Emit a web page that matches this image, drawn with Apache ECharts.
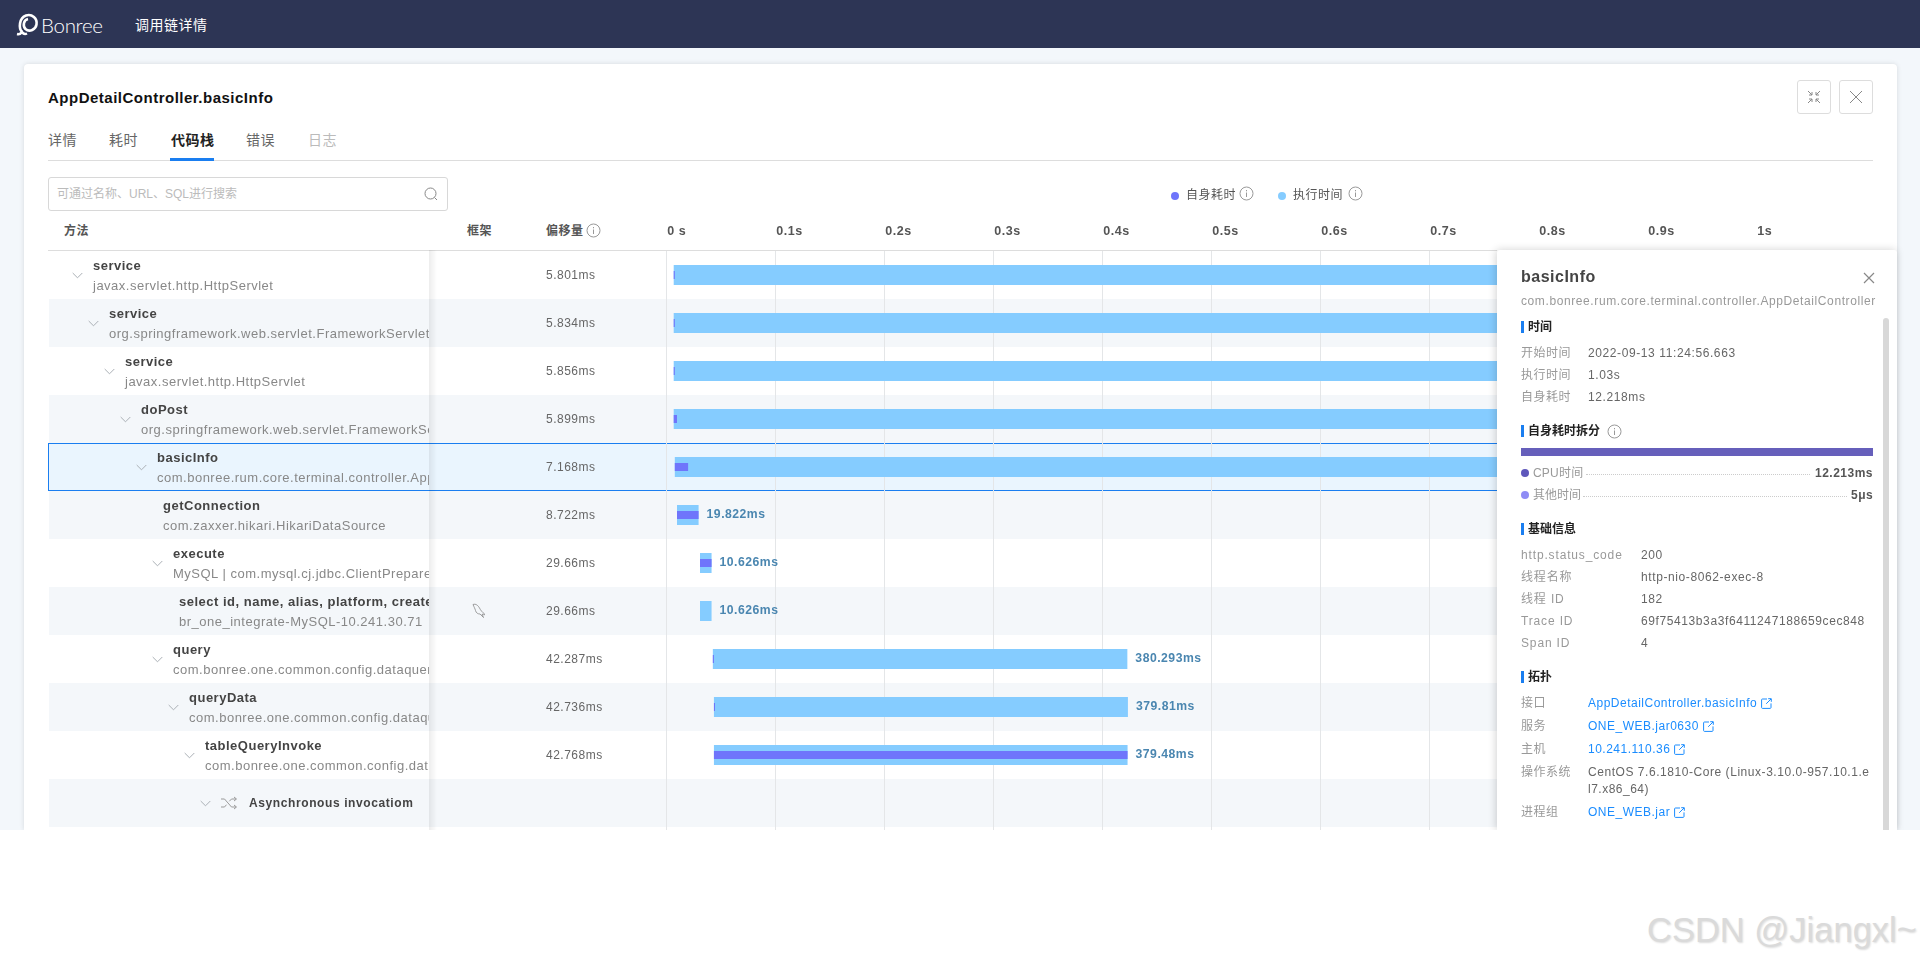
<!DOCTYPE html>
<html>
<head>
<meta charset="utf-8">
<title>调用链详情</title>
<script src="https://cdn.jsdelivr.net/npm/echarts@6/dist/echarts.min.js"></script>
<style>
html, body { margin: 0; padding: 0; width: 1920px; height: 961px; overflow: hidden; background: #fff; }
body { font-family: "Liberation Sans", "Noto Sans CJK SC", sans-serif; font-size: 12px; letter-spacing: .5px; color: #666; }
.box { position: absolute; box-sizing: border-box; }
.t { position: absolute; white-space: nowrap; transform: translateY(-50%); line-height: 16px; }
svg { display: block; }
.t svg { display: inline-block; vertical-align: -2px; margin-left: 4px; }
#chart { position: absolute; left: 0; top: 0; width: 1920px; height: 830px; z-index: 2; }
</style>
</head>
<body>
<div id="root"></div>
<div id="chart"></div>
<script>
// trace rows
var methodNames = ['service', 'service', 'service', 'doPost', 'basicInfo', 'getConnection', 'execute',
    'select id, name, alias, platform, create_time', 'query', 'queryData', 'tableQueryInvoke', 'Asynchronous invocatiom', ''];
var methodClasses = ['javax.servlet.http.HttpServlet', 'org.springframework.web.servlet.FrameworkServlet',
    'javax.servlet.http.HttpServlet', 'org.springframework.web.servlet.FrameworkServlet',
    'com.bonree.rum.core.terminal.controller.AppDetailController', 'com.zaxxer.hikari.HikariDataSource',
    'MySQL | com.mysql.cj.jdbc.ClientPreparedStatement', 'br_one_integrate-MySQL-10.241.30.71',
    'com.bonree.one.common.config.dataquery.QueryService', 'com.bonree.one.common.config.dataquery.QueryService',
    'com.bonree.one.common.config.dataquery.QueryService', '', ''];
var offsetLabels = ['5.801ms', '5.834ms', '5.856ms', '5.899ms', '7.168ms', '8.722ms', '29.66ms', '29.66ms',
    '42.287ms', '42.736ms', '42.768ms', '', ''];
var startMs = [6.8, 6.8, 6.8, 6.8, 7.8, 9.8, 30.9, 30.9, 42.7, 43.7, 43.7, null, null];
var execMs = [1030, 1030, 1030, 1030, 1030, 19.822, 10.626, 10.626, 380.293, 379.81, 379.48, null, null];
var selfMs = [1, 1, 1, 3, 12.218, 19.822, 10.626, 0, 1, 1, 379.48, null, null];
var execLabels = ['1.03s', '1.03s', '1.03s', '1.03s', '1.03s', '19.822ms', '10.626ms', '10.626ms',
    '380.293ms', '379.81ms', '379.48ms', '', ''];
var tickLabels = ['0 s', '0.1s', '0.2s', '0.3s', '0.4s', '0.5s', '0.6s', '0.7s', '0.8s', '0.9s', '1s'];
var legendNames = ['自身耗时', '执行时间'];

// page text
var tabNames = ['详情', '耗时', '代码栈', '错误', '日志'];
var timeLabels = ['开始时间', '执行时间', '自身耗时'];
var timeValues = ['2022-09-13 11:24:56.663', '1.03s', '12.218ms'];
var baseLabels = ['http.status_code', '线程名称', '线程 ID', 'Trace ID', 'Span ID'];
var baseValues = ['200', 'http-nio-8062-exec-8', '182', '69f75413b3a3f6411247188659cec848', '4'];
var topoLabels = ['接口', '服务', '主机', '操作系统', '进程组'];
var topoValues = ['AppDetailController.basicInfo', 'ONE_WEB.jar0630', '10.241.110.36', 'CentOS 7.6.1810-Core (Linux-3.10.0-957.10.1.e', 'ONE_WEB.jar'];

// layout of the page around the chart
var ROW_H = 48, ROW_TOP = 251;
var nameX = [93, 109, 125, 141, 157, 163, 173, 179, 173, 189, 205, 249];
var arrowX = [77, 93, 109, 125, 141, null, 157, null, 157, 173, 189, 205];
var tabX = [48, 109, 171, 246, 308];
var AXIS_LEFT = 666.3, PX_PER_MS = 1.09;

var root = document.getElementById('root');

function box(x, y, w, h, css, z) {
    var d = document.createElement('div');
    d.className = 'box';
    d.style.cssText = 'left:' + x + 'px;top:' + y + 'px;width:' + w + 'px;height:' + h + 'px;' + (z ? 'z-index:' + z + ';' : '') + (css || '');
    root.appendChild(d);
    return d;
}
function txt(x, y, s, css, z, parent) {
    var d = document.createElement('div');
    d.className = 't';
    d.style.cssText = 'left:' + x + 'px;top:' + y + 'px;' + (z ? 'z-index:' + z + ';' : '') + (css || '');
    d.textContent = s;
    (parent || root).appendChild(d);
    return d;
}
function icon(x, y, w, h, inner, z, parent) {
    var d = document.createElement('div');
    d.className = 'box';
    d.style.cssText = 'left:' + (x - w / 2) + 'px;top:' + (y - h / 2) + 'px;width:' + w + 'px;height:' + h + 'px;' + (z ? 'z-index:' + z + ';' : '');
    d.innerHTML = '<svg width="' + w + '" height="' + h + '" viewBox="0 0 ' + w + ' ' + h + '" fill="none">' + inner + '</svg>';
    (parent || root).appendChild(d);
    return d;
}
function infoIcon(x, y, z) {
    icon(x, y, 15, 15, '<circle cx="7.5" cy="7.5" r="6.5" stroke="#999"/><path d="M7.5 6.5v4.5M7.5 4v1.3" stroke="#999"/>', z);
}
function chevron(x, y, parent) {
    icon(x, y, 11, 7, '<path d="M.7 1 5.5 5.8 10.3 1" stroke="#aab0b5"/>', 0, parent);
}
var linkSvg = '<svg width="11" height="11" viewBox="0 0 11 11" fill="none"><path d="M6 1H1.4a.8.8 0 0 0-.8.8v7.8c0 .4.4.8.8.8h7.8c.4 0 .8-.4.8-.8V5.4M5.2 5.8 10 1M7.2 .7h3.1v3.1" stroke="#1a8cff"/></svg>';

// header
box(0, 0, 1920, 48, 'background:#2d3555;');
box(0, 48, 1920, 782, 'background:#f3f7fb;');
icon(27.5, 24, 26, 24, '<path d="M7 20C3.5 16 4 6 11 3.5c6-2 11.5 3 10.5 9-.8 5-7 8-11 4.5C7.5 14 8.5 8 13 7" stroke="#fff" stroke-width="2.6"/><path d="M2 22c2 .5 4-.5 5-2 1 1.5 3 2.5 5 1.5" stroke="#fff" stroke-width="2.4"/>');
txt(41, 25, 'Bonree', 'font:300 20.5px Lato,"Liberation Sans";letter-spacing:-.3px;color:#fff;');
txt(135, 25, '调用链详情', 'font-size:14px;color:#fff;');

// card
box(24, 64, 1873, 766, 'background:#fff;border-radius:4px 4px 0 0;box-shadow:0 0 5px rgba(0,0,0,.12);');
txt(48, 97, 'AppDetailController.basicInfo', 'font:bold 15px "Liberation Sans";color:#111;');
tabNames.forEach(function (n, i) {
    var c = i === 2 ? 'color:#222;font-weight:bold;' : (i === 4 ? 'color:#bbb;' : 'color:#666;');
    txt(tabX[i], 140, n, 'font-size:14px;' + c);
});
box(48, 160, 1825, 1, 'background:#ddd;');
box(170, 158, 44, 3, 'background:#1a7ef0;');
box(1797, 80, 34, 34, 'border:1px solid #ddd;border-radius:3px;');
icon(1814, 97, 14, 14, '<path d="M1 1 5 5M5 2v3H2M13 1 9 5M9 2v3h3M1 13 5 9M2 9h3v3M13 13 9 9M12 9H9v3" stroke="#888"/>');
box(1839, 80, 34, 34, 'border:1px solid #ddd;border-radius:3px;');
icon(1856, 97, 14, 14, '<path d="M1 1 13 13M13 1 1 13" stroke="#888"/>');

// search box and table head
box(48, 177, 400, 34, 'border:1px solid #d8d8d8;border-radius:3px;');
txt(57, 194, '可通过名称、URL、SQL进行搜索', 'color:#bbb;letter-spacing:0;');
icon(431, 194, 14, 14, '<circle cx="6.5" cy="6.5" r="5.5" stroke="#888"/><path d="M10.5 10.5 13 13" stroke="#888"/>');
txt(64, 231, '方法', 'font-weight:bold;color:#555;');
txt(467, 231, '框架', 'font-weight:bold;color:#555;');
txt(546, 231, '偏移量', 'font-weight:bold;color:#555;');
infoIcon(593, 230);
infoIcon(1246, 193, 3);
infoIcon(1355.5, 193, 3);
box(48, 250, 1449, 1, 'background:#ddd;');

// table rows
var leftCol = box(49, 250, 380, 580, 'overflow:hidden;z-index:3;');
methodNames.slice(0, 12).forEach(function (name, i) {
    var top = ROW_TOP + i * ROW_H;
    if (i % 2 === 1) box(49, top, 1448, ROW_H, 'background:#f4f7fa;');
    if (i === 4) box(48, top, 1449, ROW_H, 'background:#eaf5fe;border:1.5px solid #1a7ef0;border-right:0;');
    var mid = top + 23.5 - 250;
    if (arrowX[i] !== null) chevron(arrowX[i] - 49, mid + 1, leftCol);
    if (i === 11) {
        icon(229 - 49, mid + 0.5, 18, 14, '<path d="M1 3h3.5l7 8H16M1 11h3.5l2-2.3M9.3 5.3 11.5 3H16M14 1l2.5 2L14 5M14 9l2.5 2L14 13" stroke="#999"/>', 0, leftCol);
        txt(nameX[i] - 49, mid, name, 'font-weight:bold;color:#444;letter-spacing:.6px;', 0, leftCol);
    } else {
        txt(nameX[i] - 49, mid - 8.5, name, 'font-weight:bold;font-size:13px;color:#444;', 0, leftCol);
        txt(nameX[i] - 49, mid + 11.5, methodClasses[i], 'font-size:13px;color:#888;', 0, leftCol);
    }
    if (offsetLabels[i]) txt(546, top + 23.5, offsetLabels[i], 'color:#666;', 3);
});
box(429, 250, 8, 580, 'z-index:3;background:linear-gradient(to right,rgba(0,0,0,.07),rgba(0,0,0,0));');
icon(480, 611, 16, 16, '<path d="M1 1.5c3-1 5 1 6.5 3.5 1 2 2.5 4 5.5 6.5-1 .5-2 0-3-.5l1.5 3.5-3.5-3.5c-2 0-4-1-4.5-3.5C3 5.5 2 4 1 1.5Z" stroke="#888" stroke-width=".8"/>', 3);

// detail panel on the right
var Z = 5;
box(1497, 250, 400, 580, 'background:#fff;border-radius:3px 3px 0 0;box-shadow:-1px 0 8px rgba(0,0,0,.18);', 4);
box(0, 830, 1920, 131, 'background:#fff;', 4);
txt(1521, 277, 'basicInfo', 'font:bold 16px "Liberation Sans";letter-spacing:.5px;color:#444;', Z);
icon(1869, 278, 12, 12, '<path d="M1 1 11 11M11 1 1 11" stroke="#888" stroke-width="1.2"/>', Z);
txt(1521, 301, 'com.bonree.rum.core.terminal.controller.AppDetailController', 'color:#999;letter-spacing:.6px;', Z);
box(1883, 318, 6, 512, 'background:#d8d8d8;border-radius:3px 3px 0 0;', Z);

function sectionHead(y, s) {
    box(1521, y - 6, 3, 12, 'background:#1a7ef0;', Z);
    txt(1528, y, s, 'font-weight:bold;color:#222;letter-spacing:0;', Z);
}
sectionHead(327, '时间');
timeLabels.forEach(function (s, i) {
    txt(1521, 353 + i * 22, s, 'color:#999;', Z);
    txt(1588, 353 + i * 22, timeValues[i], 'color:#666;letter-spacing:.6px;', Z);
});
sectionHead(431, '自身耗时拆分');
infoIcon(1614, 431, Z);
box(1521, 448, 352, 8, 'background:#665fbb;', Z);
box(1521, 469, 8, 8, 'background:#5e57bb;border-radius:50%;', Z);
txt(1533, 473, 'CPU时间', 'color:#999;letter-spacing:0.2px;', Z);
box(1586, 474, 224, 1, 'border-top:1px dotted #ccc;', Z);
txt(1815, 473, '12.213ms', 'font-weight:bold;color:#555;', Z);
box(1521, 491, 8, 8, 'background:#8f8cf5;border-radius:50%;', Z);
txt(1533, 495, '其他时间', 'color:#999;letter-spacing:0;', Z);
box(1583, 496, 264, 1, 'border-top:1px dotted #ccc;', Z);
txt(1851, 495, '5μs', 'font-weight:bold;color:#555;', Z);
sectionHead(529, '基础信息');
baseLabels.forEach(function (s, i) {
    txt(1521, 555 + i * 22, s, 'color:#999;letter-spacing:.85px;', Z);
    txt(1641, 555 + i * 22, baseValues[i], 'color:#666;letter-spacing:.6px;', Z);
});
sectionHead(677, '拓扑');
var topoY = [703, 726, 749, 772, 812];
topoLabels.forEach(function (s, i) {
    txt(1521, topoY[i], s, 'color:#999;', Z);
    var v = txt(1588, topoY[i], topoValues[i], i === 3 ? 'color:#666;letter-spacing:.55px;' : 'color:#1a8cff;', Z);
    if (i !== 3) v.innerHTML += linkSvg;
});
txt(1588, 789, 'l7.x86_64)', 'color:#666;', Z);

// watermark
txt(1647, 930, 'CSDN @Jiangxl~', 'font:34.5px "Liberation Sans";letter-spacing:0;color:#dadada;text-shadow:1px 1px 2px rgba(0,0,0,.14);', Z);

// gantt chart
var execColor = '#85ccff', selfColor = '#6f75fb';
var execData = [], selfData = [];
startMs.forEach(function (s, i) {
    if (s === null) return;
    execData.push([s, s + execMs[i], i, execLabels[i]]);
    if (selfMs[i] > 0) selfData.push([s, s + selfMs[i], i]);
});

function barRenderer(barH, color, withLabel) {
    return function (params, api) {
        var a = api.coord([api.value(0), api.value(2)]);
        var b = api.coord([api.value(1), api.value(2)]);
        var kids = [{
            type: 'rect',
            shape: { x: a[0], y: a[1] - barH / 2, width: b[0] - a[0], height: barH },
            style: { fill: color }
        }];
        if (withLabel) {
            kids.push({
                type: 'text',
                style: {
                    x: b[0] + 8, y: a[1],
                    text: execData[params.dataIndex][3],
                    fill: '#4a86b0',
                    font: 'bold 12.2px "Liberation Sans"',
                    verticalAlign: 'middle'
                }
            });
        }
        return { type: 'group', children: kids };
    };
}

var chart = echarts.init(document.getElementById('chart'), null, { renderer: 'canvas' });
chart.setOption({
    animation: false,
    backgroundColor: 'transparent',
    textStyle: { fontFamily: '"Liberation Sans","Noto Sans CJK SC",sans-serif' },
    legend: {
        left: 1166, top: 185,
        data: [
            { name: legendNames[0], icon: 'circle', itemStyle: { color: selfColor } },
            { name: legendNames[1], icon: 'circle', itemStyle: { color: execColor } }
        ],
        itemWidth: 8, itemHeight: 8, itemGap: 44,
        textStyle: { color: '#555', fontSize: 12, padding: [0, 0, 0, 2] }
    },
    grid: {
        left: AXIS_LEFT, top: ROW_TOP, width: 1100 * PX_PER_MS, height: ROW_H * methodNames.length,
        outerBoundsMode: 'none'
    },
    xAxis: {
        type: 'value', position: 'top', min: 0, max: 1100, interval: 100,
        axisLine: { show: false }, axisTick: { show: false },
        axisLabel: {
            align: 'left', margin: 13, padding: [0, 0, 0, 1],
            color: '#555', fontWeight: 'bold', fontSize: 12.5,
            formatter: function (v) { return tickLabels[Math.round(v / 100)] || ''; }
        },
        splitLine: { show: true, lineStyle: { color: '#e4e6e8', width: 1 } }
    },
    yAxis: { type: 'category', inverse: true, show: false, data: methodNames },
    series: [
        {
            name: legendNames[1], type: 'custom', data: execData, itemStyle: { color: execColor },
            encode: { x: [0, 1], y: 2 }, renderItem: barRenderer(20, execColor, true), clip: false, silent: true
        },
        {
            name: legendNames[0], type: 'custom', data: selfData, itemStyle: { color: selfColor },
            encode: { x: [0, 1], y: 2 }, renderItem: barRenderer(8, selfColor, false), clip: false, silent: true
        }
    ]
});
</script>
</body>
</html>
